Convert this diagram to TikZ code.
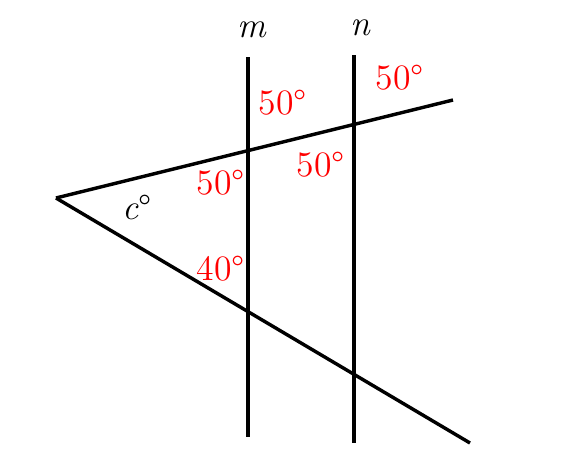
\documentclass[tikz,border=0pt]{standalone}
\usepackage{fontspec}
\begin{document}
\begin{tikzpicture}[x=0.35pt,y=-0.35pt,line width=1.2pt,
  ang/.style={text=red,font=\fontsize{12.5}{14}\selectfont},
  lbl/.style={font=\fontsize{12.5}{14}\selectfont\itshape}]
\useasboundingbox (0,0) rectangle (570,476);

\coordinate (A) at (56,198);
\coordinate (mt) at (248,57);
\coordinate (mb) at (248,437);
\coordinate (nt) at (354,55);
\coordinate (nb) at (354,443);
\coordinate (ue) at (453,100);
\coordinate (le) at (470,443);

\draw (mt) -- (mb);
\draw (nt) -- (nb);
\draw (A) -- (ue);
\draw (A) -- (le);

\node[lbl] (m) at (252,30) {m};
\node[lbl] (n) at (360,28) {n};
\node[lbl] (c) at (137,207) {c\upshape°};

\node[ang] (a1) at (283,103) {50°};
\node[ang] (a2) at (400,78) {50°};
\node[ang] (a3) at (321,165) {50°};
\node[ang] (a4) at (221,183) {50°};
\node[ang] (a5) at (221,269) {40°};
\end{tikzpicture}
\end{document}
